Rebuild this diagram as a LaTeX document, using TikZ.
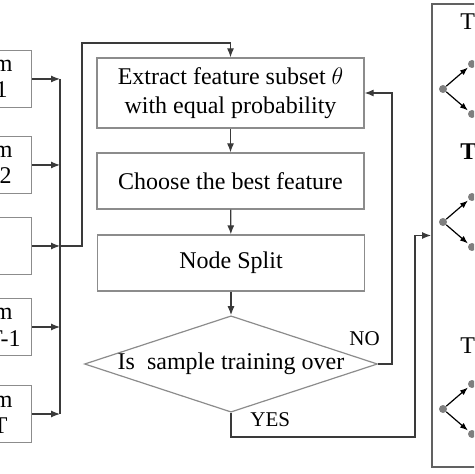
\documentclass[tikz,border=0pt]{standalone}
\usepackage{fontspec}
\setmainfont{Liberation Serif}
\usetikzlibrary{shapes.geometric,arrows.meta,positioning,calc}
\definecolor{boxGray}{HTML}{8C8C8C}
\definecolor{lineGray}{HTML}{3A3A3A}
\definecolor{dotGray}{HTML}{7F7F7F}

\begin{document}
\begin{tikzpicture}[
    x=0.5pt, y=-0.5pt,
    box/.style={rectangle, draw=boxGray, line width=0.6pt, minimum width=133.5pt, align=center, font=\fontsize{12}{14.5}\selectfont},
    sample/.style={rectangle, draw=boxGray, line width=0.6pt, minimum width=40pt, minimum height=28.5pt},
    decision/.style={diamond, draw=boxGray, line width=0.6pt, minimum width=144.5pt, minimum height=47.5pt, shape aspect=3.04, inner sep=0pt, font=\fontsize{12}{14.5}\selectfont},
    dot/.style={circle, fill=dotGray, inner sep=0pt, minimum size=4pt},
    line/.style={draw=lineGray, line width=0.6pt},
    arrow/.style={->, >={Latex[length=4.5pt,width=3.5pt]}, draw=lineGray, line width=0.6pt},
    tarrow/.style={->, >={Latex[length=4pt,width=3pt]}, draw=black, line width=0.6pt, shorten >=0.5pt},
    tag/.style={font=\fontsize{10.5}{12}\selectfont, inner sep=0pt}
]
    \useasboundingbox (0,0) rectangle (474,474);
    \clip (0,0) rectangle (474,474);

    % samples on the left
    \foreach \yc [count=\i] in {79,165,246,327,414}
        \node[sample, anchor=east] (s\i) at (32,\yc) {};
    \foreach \i/\yc/\xe/\lab in {1/79/8/1, 2/165/12/2, 4/327/21/T-1, 5/414/8/T} {
        \node[anchor=base east, inner sep=0pt, font=\fontsize{12}{14}\selectfont] (m\i) at (13,\yc-7) {m};
        \node[anchor=base east, inner sep=0pt, font=\fontsize{12}{14}\selectfont] (n\i) at (\xe,\yc+19) {\lab};
    }

    % collector
    \coordinate (busT) at (60,79);
    \coordinate (busB) at (60,414);
    \draw[line] (busT) -- (busB);
    \foreach \i in {1,...,5}
        \draw[arrow] (s\i.east) -- (s\i.east -| busT);

    % main flow
    \node[box, minimum height=35pt] (extract) at (230.5,93) {Extract feature subset $\theta$\\with equal probability};
    \node[box, minimum height=28pt] (choose) at (230.5,181) {Choose the best feature};
    \node[box, minimum height=28pt] (split) at (231,263) {Node Split};
    \node[decision] (over) at (231,364) {Is\ \ sample training over};

    \coordinate (feed) at (82,43);
    \draw[arrow] (s3.east -| busT) -| (feed) -| (extract.north);
    \draw[arrow] (extract) -- (choose);
    \draw[arrow] (choose) -- (split);
    \draw[arrow] (split) -- (over);

    \coordinate (noTurn) at (392,364);
    \draw[arrow] (over.east) -- (noTurn) |- (extract.east);
    \node[tag, anchor=base west] (no) at (349,345) {NO};

    % forest on the right
    \node[rectangle, draw=lineGray!80, line width=0.75pt, minimum width=60pt, minimum height=231.5pt, anchor=west] (forest) at (431,235.5) {};
    \coordinate (yesTurn) at (415,437);
    \draw[arrow] (over.south) |- (yesTurn) |- (forest.west);
    \node[tag, anchor=base west] (yes) at (250,426) {YES};

    \foreach \y/\ty/\fs [count=\k] in {89/30/\mdseries, 222/160/\bfseries, 409/353/\mdseries} {
        \node[anchor=base west, inner sep=0pt, font=\fontsize{12}{14}\selectfont\fs] (t\k) at (460,\ty) {T};
        \node[dot] (r\k) at (443,\y) {};
        \node[dot] (a\k) at (472,\y-25) {};
        \node[dot] (b\k) at (472,\y+25) {};
        \draw[tarrow] (r\k) -- (a\k);
        \draw[tarrow] (r\k) -- (b\k);
    }
\end{tikzpicture}
\end{document}
